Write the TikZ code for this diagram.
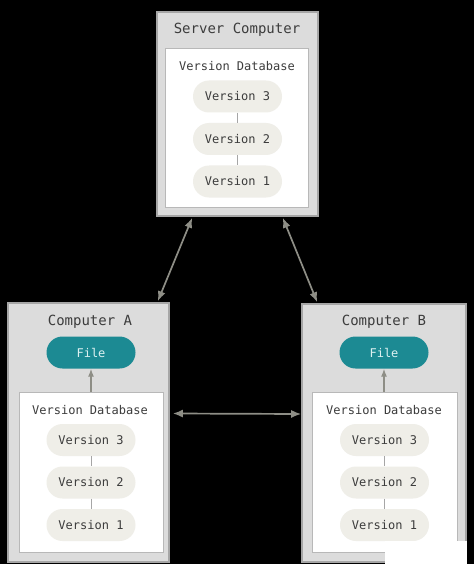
\documentclass[tikz,border=0pt]{standalone}
\usepackage{fontspec}
\setmonofont{DejaVu Sans Mono}
\usetikzlibrary{arrows.meta,calc}
\definecolor{boxfill}{HTML}{DCDCDC}
\definecolor{boxline}{HTML}{A6A6A6}
\definecolor{pillfill}{HTML}{EFEEE8}
\definecolor{txt}{HTML}{3C3C3C}
\definecolor{teal}{HTML}{1C8A93}
\definecolor{filetxt}{HTML}{DDF1F1}
\definecolor{arr}{HTML}{8E8E86}
\begin{document}
\begin{tikzpicture}[x=1pt,y=-1pt,
  outerbox/.style={draw=boxline,line width=1.6pt,fill=boxfill,inner sep=0pt},
  innerbox/.style={draw=boxline!80,line width=0.8pt,fill=white,inner sep=0pt},
  title/.style={font=\ttfamily\fontsize{14}{16}\selectfont,text=txt},
  dbtitle/.style={font=\ttfamily\fontsize{12}{14}\selectfont,text=txt},
  pill/.style={rounded corners=16pt,fill=pillfill,minimum width=89pt,minimum height=32pt,
    font=\ttfamily\fontsize{12}{14}\selectfont,text=txt,inner sep=0pt},
  filepill/.style={fill=teal,minimum width=89pt,minimum height=32pt,rounded corners=16pt,
    font=\ttfamily\fontsize{12}{14}\selectfont,text=filetxt,inner sep=0pt},
  link/.style={draw=boxline,line width=0.8pt},
  sync/.style={draw=arr,line width=1.7pt,{Latex[length=10pt,width=8pt]}-{Latex[length=10pt,width=8pt]}},
  up/.style={draw=arr,line width=1.3pt,-{Latex[length=8pt,width=6pt]}}
]
\useasboundingbox (0,0) rectangle (474,564);
\fill[black] (0,0) rectangle (474,564);

% Server
\node[outerbox,minimum width=161pt,minimum height=204pt] (srv) at (237.5,114) {};
\node[innerbox,minimum width=143pt,minimum height=159pt] (srvdb) at (236.5,127.5) {};
\node[title] (srvt) at (237,30) {Server Computer};
\node[dbtitle] (srvdbt) at (237,66) {Version Database};
\node[pill] (s3) at (237.5,96.5) {Version 3};
\node[pill] (s2) at (237.5,139) {Version 2};
\node[pill] (s1) at (237.5,181.5) {Version 1};
\draw[link] (s3) -- (s2);
\draw[link] (s2) -- (s1);

% Computer A
\node[outerbox,minimum width=161pt,minimum height=259pt] (ca) at (88.5,432.5) {};
\node[innerbox,minimum width=144pt,minimum height=160pt] (cadb) at (91,472) {};
\node[title] (cat) at (90,322) {Computer A};
\node[filepill] (fa) at (91,352.5) {File};
\node[dbtitle] (cadbt) at (90,410) {Version Database};
\node[pill] (a3) at (91,440) {Version 3};
\node[pill] (a2) at (91,482.5) {Version 2};
\node[pill] (a1) at (91,525) {Version 1};
\draw[link] (a3) -- (a2);
\draw[link] (a2) -- (a1);
\draw[up] (cadb.north -| fa.south) -- (fa.south);

% Computer B
\node[outerbox,minimum width=164pt,minimum height=258pt] (cb) at (384,433) {};
\node[innerbox,minimum width=145pt,minimum height=160pt] (cbdb) at (384.5,472) {};
\node[title] (cbt) at (384,322) {Computer B};
\node[filepill] (fb) at (384,352.5) {File};
\node[dbtitle] (cbdbt) at (384,410) {Version Database};
\node[pill] (b3) at (384.5,440) {Version 3};
\node[pill] (b2) at (384.5,482.5) {Version 2};
\node[pill] (b1) at (384.5,525) {Version 1};
\draw[link] (b3) -- (b2);
\draw[link] (b2) -- (b1);
\draw[up] (cbdb.north -| fb.south) -- (fb.south);

% sync arrows
\coordinate (sl) at ($(srv.south west)+(36,1)$);
\coordinate (sr) at ($(srv.south east)+(-36,1)$);
\coordinate (al) at ($(ca.north east)+(-12,-1)$);
\coordinate (br) at ($(cb.north west)+(16,-1)$);
\draw[sync] (sl) -- (al);
\draw[sync] (sr) -- (br);
\coordinate (ah) at ($(ca.east)+(3,-19)$);
\coordinate (bh) at ($(cb.west)+(0,-19)$);
\draw[sync] (ah) -- (bh);

% white patch at lower right
\fill[white] (385,541) rectangle (467,564);
\end{tikzpicture}
\end{document}
